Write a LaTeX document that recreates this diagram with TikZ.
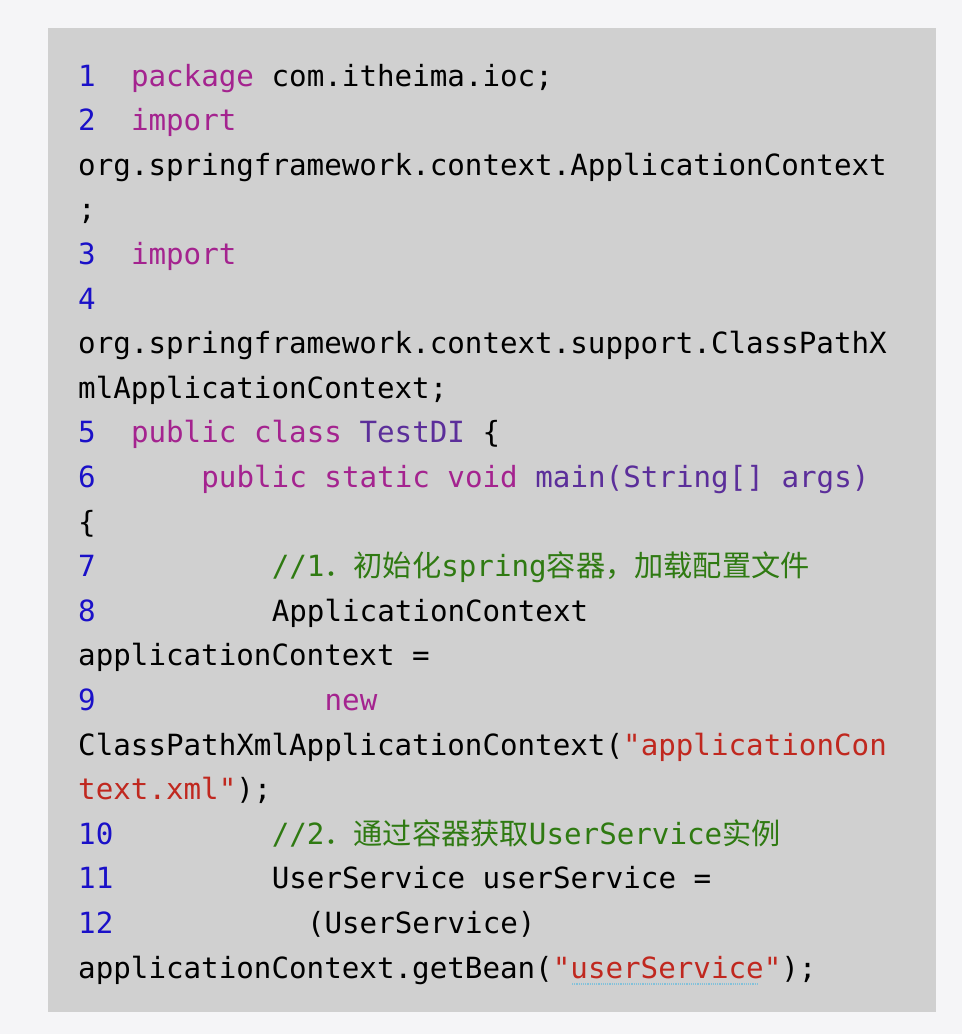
\documentclass[tikz,border=0pt]{standalone}
\usepackage{fontspec}
\setmonofont{DejaVu Sans Mono}
\newfontfamily\cjk{Noto Sans CJK SC}
\definecolor{numc}{HTML}{1A10C8}
\definecolor{kwc}{HTML}{A4238F}
\definecolor{tyc}{HTML}{5B2E9A}
\definecolor{cmc}{HTML}{2F7A12}
\definecolor{stc}{HTML}{C0281F}
\definecolor{boxc}{HTML}{D0D0D0}
\definecolor{pagec}{HTML}{F5F5F7}
\begin{document}
\begin{tikzpicture}[x=1pt,y=-1pt,
  codeline/.style={anchor=base west,inner sep=0pt,font=\ttfamily\fontsize{29.2}{35}\selectfont}]
\fill[pagec] (0,0) rectangle (962,1034);
\useasboundingbox (0,0) rectangle (962,1034);
\fill[boxc] (48,28) rectangle (936,1012);
\def\c#1{{78+17.6*#1}}
\def\b#1{{86+44.6*#1}}
\node[codeline] (n1) at (\c0,\b0) {\textcolor{numc}{1}};
\node[codeline] (l1) at (\c3,\b0) {\textcolor{kwc}{package} com.itheima.ioc;};
\node[codeline] (n2) at (\c0,\b1) {\textcolor{numc}{2}};
\node[codeline] (l2) at (\c3,\b1) {\textcolor{kwc}{import}};
\node[codeline] (l3) at (\c0,\b2) {org.springframework.context.ApplicationContext};
\node[codeline] (l4) at (\c0,\b3) {;};
\node[codeline] (n3) at (\c0,\b4) {\textcolor{numc}{3}};
\node[codeline] (l5) at (\c3,\b4) {\textcolor{kwc}{import}};
\node[codeline] (n4) at (\c0,\b5) {\textcolor{numc}{4}};
\node[codeline] (l6) at (\c0,\b6) {org.springframework.context.support.ClassPathX};
\node[codeline] (l7) at (\c0,\b7) {mlApplicationContext;};
\node[codeline] (n5) at (\c0,\b8) {\textcolor{numc}{5}};
\node[codeline] (l8) at (\c3,\b8) {\textcolor{kwc}{public class} \textcolor{tyc}{TestDI} \{};
\node[codeline] (n6) at (\c0,\b9) {\textcolor{numc}{6}};
\node[codeline] (l9) at (\c7,\b9) {\textcolor{kwc}{public static void} \textcolor{tyc}{main(String[] args)}};
\node[codeline] (l10) at (\c0,\b{10}) {\{};
\node[codeline] (n7) at (\c0,\b{11}) {\textcolor{numc}{7}};
\node[codeline] (l11) at (\c{11},\b{11}) {\textcolor{cmc}{//1{\cjk．初始化}spring{\cjk 容器，加载配置文件}}};
\node[codeline] (n8) at (\c0,\b{12}) {\textcolor{numc}{8}};
\node[codeline] (l12) at (\c{11},\b{12}) {ApplicationContext};
\node[codeline] (l13) at (\c0,\b{13}) {applicationContext =};
\node[codeline] (n9) at (\c0,\b{14}) {\textcolor{numc}{9}};
\node[codeline] (l14) at (\c{14},\b{14}) {\textcolor{kwc}{new}};
\node[codeline] (l15) at (\c0,\b{15}) {ClassPathXmlApplicationContext(\textcolor{stc}{"applicationCon}};
\node[codeline] (l16) at (\c0,\b{16}) {\textcolor{stc}{text.xml"});};
\node[codeline] (n10) at (\c0,\b{17}) {\textcolor{numc}{10}};
\node[codeline] (l17) at (\c{11},\b{17}) {\textcolor{cmc}{//2{\cjk．通过容器获取}UserService{\cjk 实例}}};
\node[codeline] (n11) at (\c0,\b{18}) {\textcolor{numc}{11}};
\node[codeline] (l18) at (\c{11},\b{18}) {UserService userService =};
\node[codeline] (n12) at (\c0,\b{19}) {\textcolor{numc}{12}};
\node[codeline] (l19) at (\c{13},\b{19}) {(UserService)};
\node[codeline] (l20) at (\c0,\b{20}) {applicationContext.getBean(\textcolor{stc}{"userService"});};
\draw[densely dotted,line width=1.2pt,color=cyan!60!gray!70] (572,984) -- (758,984);
\end{tikzpicture}
\end{document}
